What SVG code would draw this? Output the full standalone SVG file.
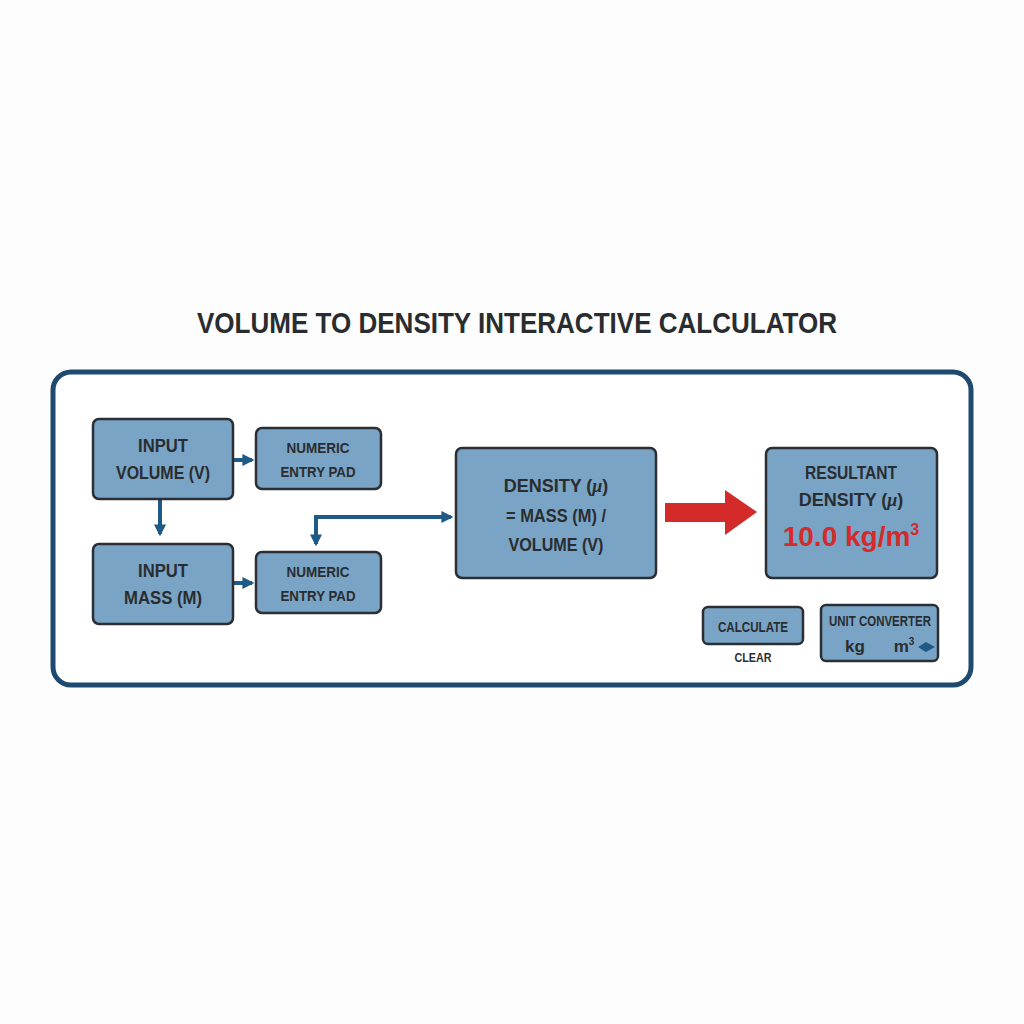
<svg xmlns="http://www.w3.org/2000/svg" width="1024" height="1024" viewBox="0 0 1024 1024">
<style>
.n{fill:#79a4c5;stroke:#2b2f33;stroke-width:2.5}
.t{font-family:"Liberation Sans",Arial,sans-serif;font-weight:bold;fill:#2a2d30;text-anchor:middle}
.c{stroke:#1f5a86;stroke-width:4;fill:none}
</style>
<defs>
<marker id="a" viewBox="0 0 10 10" refX="8" refY="5" markerWidth="3" markerHeight="3" orient="auto-start-reverse"><path d="M0,0L10,5L0,10z" fill="#1f5a86"/></marker>
</defs>
<rect width="1024" height="1024" fill="#fdfdfd"/>
<text class="t" x="517" y="333" font-size="30" fill="#333" textLength="640" lengthAdjust="spacingAndGlyphs">VOLUME TO DENSITY INTERACTIVE CALCULATOR</text>
<rect x="53" y="372" width="918" height="313" rx="18" fill="#fff" stroke="#1f4a70" stroke-width="5"/>
<g id="conn">
<path class="c" d="M233,460H252" marker-end="url(#a)"/>
<path class="c" d="M160,499V534" marker-end="url(#a)"/>
<path class="c" d="M233,583H252" marker-end="url(#a)"/>
<path class="c" d="M316,544V517H451" marker-start="url(#a)" marker-end="url(#a)"/>
<path d="M665,503H725V490L757,512L725,535V522H665Z" fill="#d42a2a"/>
</g>
<g id="n1"><rect class="n" x="93" y="419" width="140" height="80" rx="6"/><text class="t" x="163" y="452" font-size="18" textLength="50" lengthAdjust="spacingAndGlyphs">INPUT</text><text class="t" x="163" y="479" font-size="18" textLength="94" lengthAdjust="spacingAndGlyphs">VOLUME (V)</text></g>
<g id="n2"><rect class="n" x="256" y="428" width="125" height="61" rx="6"/><text class="t" x="318" y="453" font-size="15" textLength="63" lengthAdjust="spacingAndGlyphs">NUMERIC</text><text class="t" x="318" y="477" font-size="15" textLength="75" lengthAdjust="spacingAndGlyphs">ENTRY PAD</text></g>
<g id="n3"><rect class="n" x="93" y="544" width="140" height="80" rx="6"/><text class="t" x="163" y="577" font-size="18" textLength="50" lengthAdjust="spacingAndGlyphs">INPUT</text><text class="t" x="163" y="604" font-size="18" textLength="78" lengthAdjust="spacingAndGlyphs">MASS (M)</text></g>
<g id="n4"><rect class="n" x="256" y="552" width="125" height="61" rx="6"/><text class="t" x="318" y="577" font-size="15" textLength="63" lengthAdjust="spacingAndGlyphs">NUMERIC</text><text class="t" x="318" y="601" font-size="15" textLength="75" lengthAdjust="spacingAndGlyphs">ENTRY PAD</text></g>
<g id="n5"><rect class="n" x="456" y="448" width="200" height="130" rx="6"/><text class="t" x="556" y="492" font-size="18">DENSITY (<tspan font-family="Liberation Serif" font-style="italic">μ</tspan>)</text><text class="t" x="556" y="522" font-size="18" textLength="100" lengthAdjust="spacingAndGlyphs">= MASS (M) /</text><text class="t" x="556" y="551" font-size="18" textLength="95" lengthAdjust="spacingAndGlyphs">VOLUME (V)</text></g>
<g id="n6"><rect class="n" x="766" y="448" width="171" height="130" rx="6"/><text class="t" x="851" y="479" font-size="18" textLength="92" lengthAdjust="spacingAndGlyphs">RESULTANT</text><text class="t" x="851" y="506" font-size="18">DENSITY (<tspan font-family="Liberation Serif" font-style="italic">μ</tspan>)</text><text class="t" x="851" y="546" font-size="28" style="fill:#d42a2a">10.0 kg/m<tspan font-size="16" dy="-11">3</tspan></text></g>
<g id="n7"><rect class="n" x="703" y="607" width="100" height="37" rx="5"/><text class="t" x="753" y="632" font-size="14" textLength="70" lengthAdjust="spacingAndGlyphs">CALCULATE</text><text class="t" x="753" y="662" font-size="13" textLength="37" lengthAdjust="spacingAndGlyphs">CLEAR</text></g>
<g id="n8"><rect class="n" x="821" y="605" width="117" height="56" rx="5"/><text class="t" x="880" y="626" font-size="14" textLength="102" lengthAdjust="spacingAndGlyphs">UNIT CONVERTER</text><text class="t" x="855" y="652" font-size="17">kg</text><text class="t" x="904" y="652" font-size="17">m<tspan font-size="10" dy="-7">3</tspan></text><path d="M918,647L926,642L935,647L926,652Z" fill="#1f5a86"/></g>
</svg>
